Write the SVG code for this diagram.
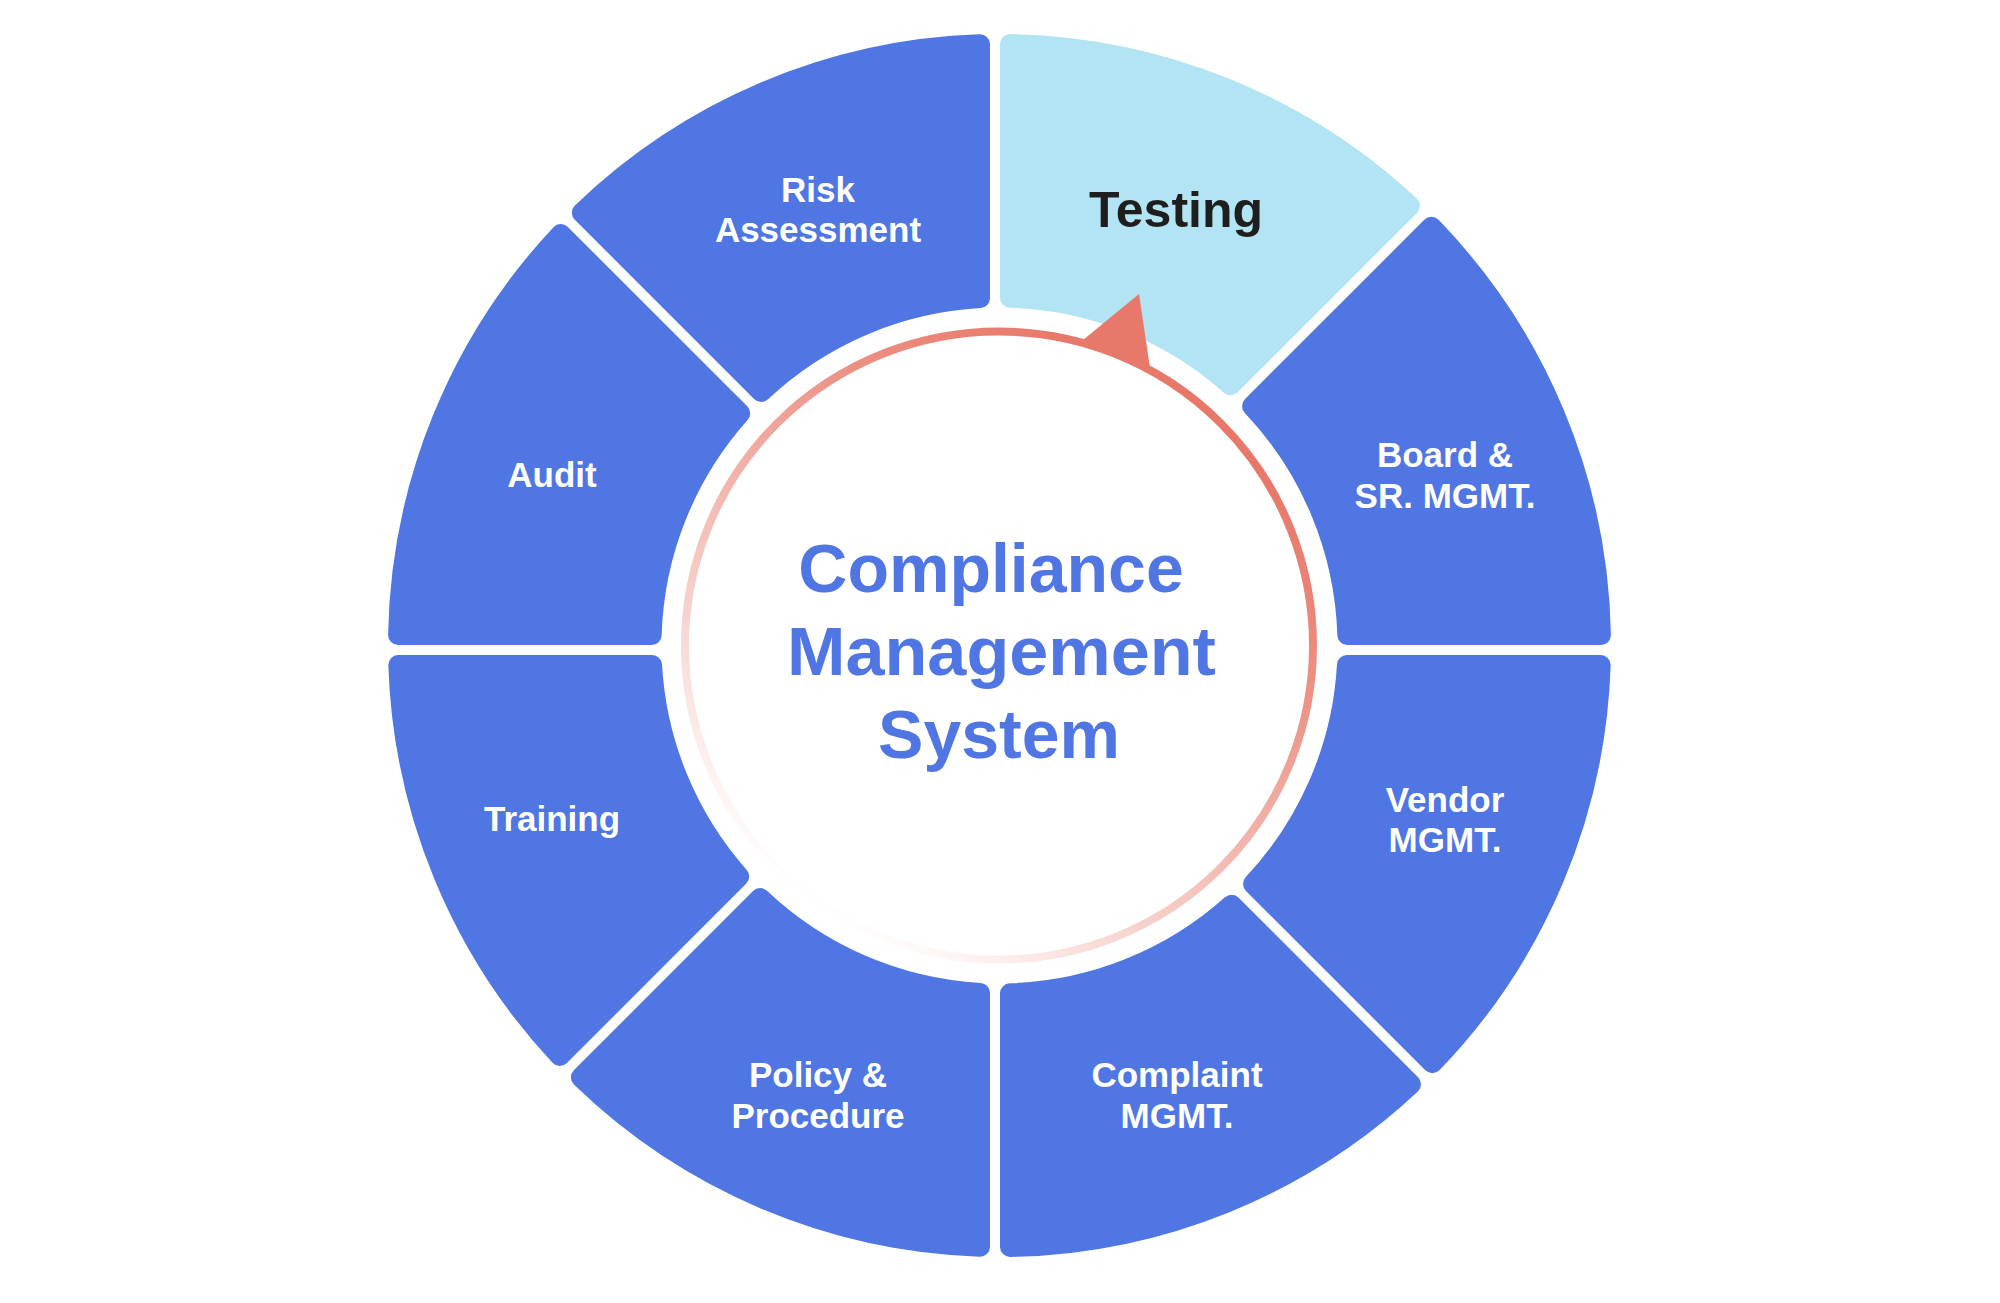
<svg xmlns="http://www.w3.org/2000/svg" width="2000" height="1303" viewBox="0 0 2000 1303">
<style>
.seg{fill:#4F76E3;stroke:#4F76E3;stroke-width:20;stroke-linejoin:round}
.hl{fill:#B2E4F3;stroke:#B2E4F3;stroke-width:20;stroke-linejoin:round}
.lbl{font-family:"Liberation Sans",Arial,sans-serif;font-weight:bold;font-size:35px;fill:#FFFFFF;text-anchor:middle}
.big{font-family:"Liberation Sans",Arial,sans-serif;font-weight:bold;font-size:50px;fill:#1E1E1E;text-anchor:middle}
.ctr{font-family:"Liberation Sans",Arial,sans-serif;font-weight:bold;font-size:68px;fill:#4F76E3;text-anchor:middle}
</style>
<defs>
<linearGradient id="ringGrad" gradientUnits="userSpaceOnUse" x1="816.5" y1="906" x2="1181.5" y2="385">
<stop offset="0" stop-color="#E8796A" stop-opacity="0"/>
<stop offset="0.25" stop-color="#E8796A" stop-opacity="0.32"/>
<stop offset="0.7" stop-color="#E8796A" stop-opacity="0.8"/>
<stop offset="0.95" stop-color="#E8796A" stop-opacity="1"/>
</linearGradient>
</defs>
<rect x="0" y="0" width="2000" height="1303" fill="#FFFFFF"/>

<g id="node-testing">
<path class="hl" d="M1010,44.09 A601.5,601.5 0 0 1 1409.97,205.82 L1230.54,385.25 A348,348 0 0 0 1010,297.66 Z"/>
<text class="big" x="1176" y="227">Testing</text>
</g>
<g id="node-board">
<path class="seg" d="M1431.38,226.83 A601.5,601.5 0 0 1 1600.91,635 L1347.34,635 A348,348 0 0 0 1252.09,406.12 Z"/>
<text class="lbl" x="1445" y="467">Board &amp;</text>
<text class="lbl" x="1445" y="508">SR. MGMT.</text>
</g>
<g id="node-vendor">
<path class="seg" d="M1600.68,665 A601.5,601.5 0 0 1 1432.36,1063.15 L1253.06,883.85 A348,348 0 0 0 1346.95,665 Z"/>
<text class="lbl" x="1445" y="812">Vendor</text>
<text class="lbl" x="1445" y="852">MGMT.</text>
</g>
<g id="node-complaint">
<path class="seg" d="M1411,1084.21 A601.5,601.5 0 0 1 1010,1246.91 L1010,993.34 A348,348 0 0 0 1231.59,904.8 Z"/>
<text class="lbl" x="1177" y="1087">Complaint</text>
<text class="lbl" x="1177" y="1128">MGMT.</text>
</g>
<g id="node-policy">
<path class="seg" d="M980,1246.68 A601.5,601.5 0 0 1 580.83,1077.38 L760.12,898.09 A348,348 0 0 0 980,992.95 Z"/>
<text class="lbl" x="818" y="1087">Policy &amp;</text>
<text class="lbl" x="818" y="1128">Procedure</text>
</g>
<g id="node-training">
<path class="seg" d="M559.82,1055.97 A601.5,601.5 0 0 1 398.32,665 L652.05,665 A348,348 0 0 0 739.25,876.54 Z"/>
<text class="lbl" x="552" y="831">Training</text>
</g>
<g id="node-audit">
<path class="seg" d="M398.09,635 A601.5,601.5 0 0 1 560.79,234 L740.2,413.41 A348,348 0 0 0 651.66,635 Z"/>
<text class="lbl" x="552" y="487">Audit</text>
</g>
<g id="node-risk">
<path class="seg" d="M581.85,212.64 A601.5,601.5 0 0 1 980,44.32 L980,298.05 A348,348 0 0 0 761.15,391.94 Z"/>
<text class="lbl" x="818" y="202">Risk</text>
<text class="lbl" x="818" y="242">Assessment</text>
</g>

<g id="connectors">
<circle cx="999" cy="645.5" r="314" fill="none" stroke="url(#ringGrad)" stroke-width="8"/>
<polygon points="1139,294 1083,340 1150,368" fill="#E8796A"/>
</g>

<g id="node-center">
<text class="ctr" x="991" y="592">Compliance</text>
<text class="ctr" x="1001.5" y="675" textLength="429" lengthAdjust="spacingAndGlyphs">Management</text>
<text class="ctr" x="999" y="758">System</text>
</g>
</svg>
